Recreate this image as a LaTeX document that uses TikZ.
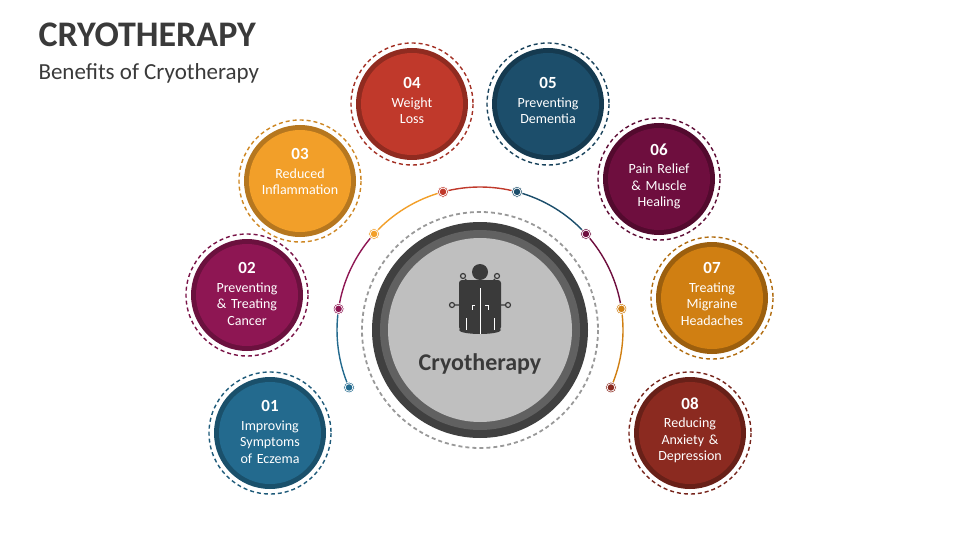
\documentclass[tikz,border=0pt]{standalone}
\usepackage{fontspec}
\setmainfont{Carlito}
\usetikzlibrary{calc}
\begin{document}
\begin{tikzpicture}[x=1pt,y=-1pt,
  ring/.style={dashed,line width=1.4pt,dash pattern=on 4pt off 3pt},
  lbl/.style={text=white,align=center,font=\fontsize{14}{16.5}\selectfont,text width=90pt},
  dotm/.style={circle,draw=white,line width=0.8pt,minimum size=11pt,inner sep=0pt}]
\useasboundingbox (0,0) rectangle (960,540);
\definecolor{c1}{HTML}{236A8E}\definecolor{c2}{HTML}{8E1653}
\definecolor{c3}{HTML}{F29F29}\definecolor{c4}{HTML}{C0392B}
\definecolor{c5}{HTML}{1C4E6B}\definecolor{c6}{HTML}{6E0E3E}
\definecolor{c7}{HTML}{D07F12}\definecolor{c8}{HTML}{8B2A20}
\definecolor{txt}{HTML}{3A3A3A}
\node[anchor=west,font=\fontsize{36}{40}\selectfont\bfseries,text=txt] (title) at (35,35) {CRYOTHERAPY};
\node[anchor=west,font=\fontsize{23}{26}\selectfont,text=txt] (sub) at (35,73) {Benefits of Cryotherapy};
% arc
\coordinate (C) at (480,330);
\foreach \a/\b/\c in {203.7/171.5/c1,171.5/137.8/c2,137.8/105/c3,105/75/c4,75/42.2/c5,42.2/8.5/c6,8.5/-23.7/c7}{
  \draw[\c,line width=1.4pt] ($(C)+({143*cos(\a)},{-143*sin(\a)})$) arc[start angle=-\a,end angle=-\b,radius=143];
}
\foreach \a/\c [count=\i] in {203.7/c1,171.5/c2,137.8/c3,105/c4,75/c5,42.2/c6,8.5/c7,-23.7/c8}{
  \node[dotm,fill=\c] (d\i) at ($(C)+({143*cos(\a)},{-143*sin(\a)})$) {};
  \node[circle,fill=white,minimum size=8.5pt,inner sep=0pt] at (d\i) {};
  \node[circle,fill=\c,minimum size=6.5pt,inner sep=0pt] at (d\i) {};
}
% center
\draw[ring,gray!80,line width=1.8pt] (C) circle[radius=118];
\fill[black!75] (C) circle[radius=108];
\fill[black!62] (C) circle[radius=100];
\fill[black!25] (C) circle[radius=92];
\node[font=\fontsize{24}{27}\selectfont\bfseries,text=txt] (ct) at (480,364) {Cryotherapy};
% icon
\begin{scope}[fill=txt]
\fill (480,272) circle[radius=8];
\fill[rounded corners=3pt] (459,280) rectangle (501,330);
\fill (480,330) ellipse[x radius=21,y radius=4];
\draw[white,line width=1pt] (480,288) -- (480,334);
\draw[white,line width=1pt] (475,305) -- (472,305) -- (472,310) (485,305)--(488,305)--(488,310);
\draw[white,line width=1pt] (466,318)--(466,330) (494,318)--(494,330);
\draw[txt,line width=1.2pt] (463,276) circle[radius=2.5] (497,276) circle[radius=2.5] (452,305) circle[radius=2.5] (508,305) circle[radius=2.5];
\draw[txt,line width=1.2pt] (465,279)--(468,282) (495,279)--(492,282) (455,305)--(459,305) (505,305)--(501,305);
\end{scope}
% items
\foreach \x/\y/\c/\n/\t/\o [count=\i] in {
 270/433/c1/01/{Improving\\Symptoms\\of Eczema}/36,
 247/295/c2/02/{Preventing\\\& Treating\\Cancer}/36,
 300/181/c3/03/{Reduced\\Inflammation}/36,
 412/104/c4/04/{Weight\\Loss}/30,
 548/104/c5/05/{Preventing\\Dementia}/30,
 659/179/c6/06/{Pain Relief\\\& Muscle\\Healing}/39,
 712/298/c7/07/{Treating\\Migraine\\Headaches}/39,
 690/433/c8/08/{Reducing\\Anxiety \&\\Depression}/39}{
  \draw[ring,\c!85!black] (\x,\y) circle[radius=61];
  \fill[\c!75!black] (\x,\y) circle[radius=56];
  \fill[\c] (\x,\y) circle[radius=51];
  \node[lbl,anchor=north] (t\i) at (\x,\y-\o) {{\fontsize{17}{19}\selectfont\bfseries \n}\\[2pt]\t};
}
\end{tikzpicture}
\end{document}
